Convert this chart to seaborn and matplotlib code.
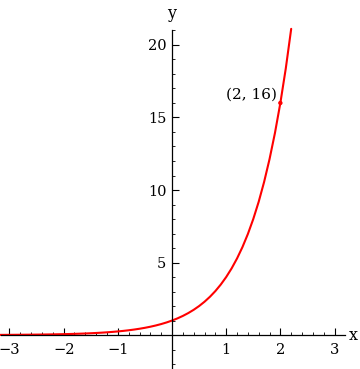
import matplotlib
matplotlib.use("Agg")
import matplotlib.pyplot as plt
import seaborn as sns
import numpy as np
import pandas as pd

# curve samples (y = 4^x)
x_vals = [-3.2, -3.1, -3.0, -2.9, -2.8, -2.7, -2.6, -2.5, -2.4, -2.3, -2.2, -2.1,
          -2.0, -1.9, -1.8, -1.7, -1.6, -1.5, -1.4, -1.3, -1.2, -1.1, -1.0, -0.9,
          -0.8, -0.7, -0.6, -0.5, -0.4, -0.3, -0.2, -0.1, 0.0, 0.1, 0.2, 0.3, 0.4,
          0.5, 0.6, 0.7, 0.8, 0.9, 1.0, 1.1, 1.2, 1.3, 1.4, 1.5, 1.6, 1.7, 1.8,
          1.9, 2.0, 2.1, 2.2]
y_vals = [0.0118, 0.0136, 0.0156, 0.0179, 0.0206, 0.0237, 0.0272, 0.0313, 0.0359,
          0.0412, 0.0474, 0.0544, 0.0625, 0.0718, 0.0825, 0.0947, 0.1088, 0.125,
          0.1436, 0.165, 0.1895, 0.2176, 0.25, 0.2872, 0.3299, 0.3789, 0.4353, 0.5,
          0.5743, 0.6598, 0.7579, 0.8706, 1.0, 1.1487, 1.3195, 1.5157, 1.7411, 2.0,
          2.2974, 2.639, 3.0314, 3.4822, 4.0, 4.5948, 5.278, 6.0629, 6.9644, 8.0,
          9.1896, 10.556, 12.126, 13.929, 16.0, 18.379, 21.112]
point_x = [2]
point_y = [16]
point_label = "(2, 16)"
x_ticks = [-3, -2, -1, 1, 2, 3]
y_ticks = [5, 10, 15, 20]

sns.set_style("white")
plt.rcParams['font.family'] = ['DejaVu Serif']
plt.rcParams['text.color'] = 'black'

fig = plt.figure(figsize=(3.6, 3.69), dpi=100)
ax = fig.add_axes([0, 0, 1, 1])

df = pd.DataFrame({"x": x_vals, "y": y_vals})
sns.lineplot(data=df, x="x", y="y", color="red", linewidth=1.5, ax=ax, sort=True)
sns.scatterplot(x=point_x, y=point_y, color="red", s=10, edgecolor="none", ax=ax, zorder=5)
ax.text(point_x[0] - 0.07, point_y[0] + 0.6, point_label, ha="right", va="center",
        fontsize=11, color="black")

ax.set_xlim(-3.175, 3.47)
ax.set_ylim(-2.34, 23.1)

for s in ["top", "right"]:
    ax.spines[s].set_visible(False)
ax.spines["left"].set_position(("data", 0))
ax.spines["bottom"].set_position(("data", 0))
ax.spines["bottom"].set_bounds(-3.15, 3.2)
ax.spines["left"].set_bounds(-2.3, 21.0)
for s in ["left", "bottom"]:
    ax.spines[s].set_color("black")
    ax.spines[s].set_linewidth(0.9)

ax.set_xticks(x_ticks)
ax.set_yticks(y_ticks)
ax.set_xticks([v for v in np.round(np.arange(-3.0, 3.01, 0.2), 1) if abs(v - round(v)) > 1e-6], minor=True)
ax.set_yticks([v for v in range(-2, 22) if v % 5 != 0], minor=True)
ax.tick_params(axis="both", which="both", bottom=True, left=True, top=False, right=False)
ax.tick_params(axis="both", which="major", direction="in", length=5, width=0.8, labelsize=10.5, colors="black")
ax.tick_params(axis="both", which="minor", direction="in", length=2.5, width=0.6, colors="black")
ax.tick_params(axis="x", which="major", pad=6)
ax.tick_params(axis="y", which="major", pad=4)
ax.set_xlabel("")
ax.set_ylabel("")

ax.text(3.34, 0, "x", ha="center", va="center", fontsize=11.5, color="black")
ax.text(0, 22.2, "y", ha="center", va="center", fontsize=11.5, color="black")

fig.savefig("out.png", dpi=100)
